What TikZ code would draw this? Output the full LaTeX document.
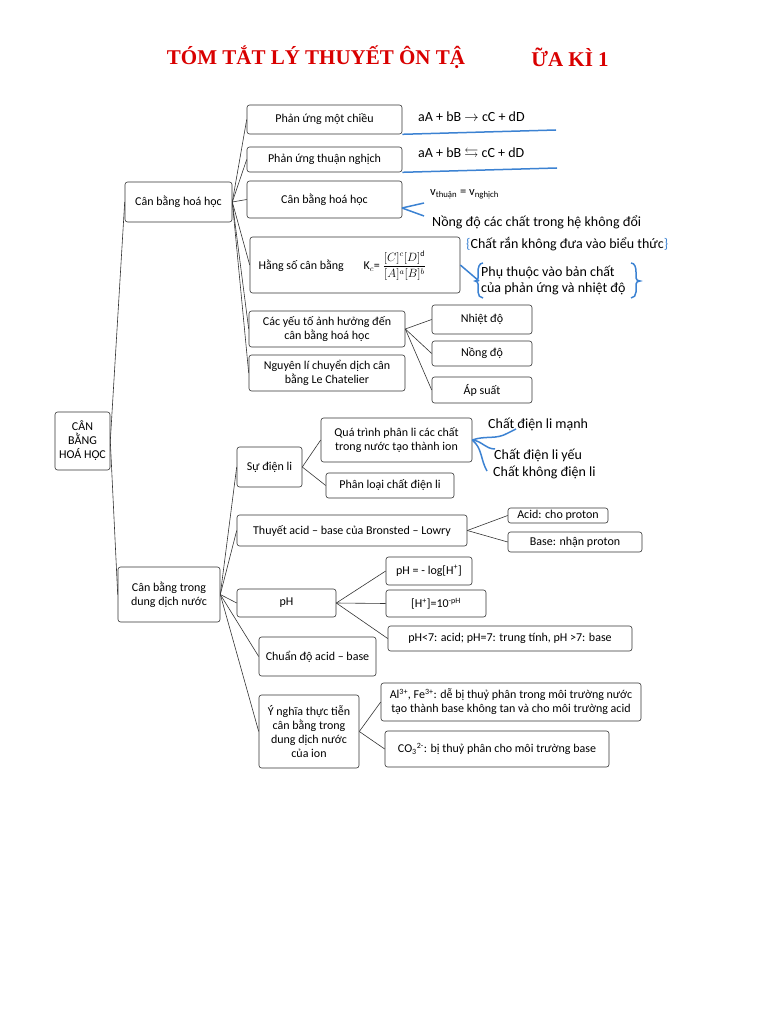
\documentclass[tikz,border=0pt]{standalone}
\usepackage{amssymb}
\usepackage{fontspec}
\setmainfont{Carlito}
\newfontfamily\tnr{Liberation Serif}
\usetikzlibrary{calc}
\definecolor{bl}{RGB}{60,130,210}
\begin{document}
\begin{tikzpicture}[x=1pt,y=-1pt,
 bx/.style={draw=black!80,rounded corners=2.5pt,line width=0.6pt,align=center,font=\fontsize{12}{14}\selectfont,inner sep=2pt},
 ln/.style={draw=black!80,line width=0.6pt},
 bt/.style={font=\fontsize{14}{16}\selectfont,anchor=west,inner sep=0pt},
 bll/.style={draw=bl,line width=1.5pt}]
\useasboundingbox (0,0) rectangle (768,1024);
\newcommand{\bxat}[6]{\node[bx,minimum width=#4-#2,minimum height=#5-#3] (#1) at ({(#2+#4)/2},{(#3+#5)/2}) {#6};}
\node[font=\tnr\bfseries\fontsize{21}{23}\selectfont,text=red!85!black] (t1) at (316,57) {TÓM TẮT LÝ THUYẾT ÔN TẬ};
\node[font=\tnr\bfseries\fontsize{21}{23}\selectfont,text=red!85!black] (t2) at (570,57) {ỮA KÌ 1};
\bxat{root}{55}{412}{110}{470}{CÂN\\BẰNG\\HOÁ HỌC}
\bxat{a}{125}{182}{232}{222}{Cân bằng hoá học}
\bxat{b}{118}{567}{220}{622}{Cân bằng trong\\dung dịch nước}
\bxat{a1}{247}{105}{402}{134}{Phản ứng một chiều}
\bxat{a2}{247}{147}{402}{172}{Phản ứng thuận nghịch}
\bxat{a3}{247}{181}{402}{218}{Cân bằng hoá học}
\bxat{a4}{250}{237}{460}{293}{}
\node[anchor=west,font=\fontsize{12}{14}\selectfont] (hs) at (255,266) {Hằng số cân bằng};
\node[anchor=west,font=\fontsize{12}{14}\selectfont] (kc) at (360,266) {K$_c$= $\displaystyle\frac{[C]^c[D]^{\mathrm d}}{[A]^a[B]^b}$};
\bxat{a5}{249}{311}{405}{347}{Các yếu tố ảnh hưởng đến\\cân bằng hoá học}
\bxat{a6}{249}{355}{405}{391}{Nguyên lí chuyển dịch cân\\bằng Le Chatelier}
\bxat{n1}{432}{305}{532}{334}{Nhiệt độ}
\bxat{n2}{432}{341}{532}{366}{Nồng độ}
\bxat{n3}{432}{377}{532}{403}{Áp suất}
\bxat{b1}{237}{447}{302}{487}{Sự điện li}
\bxat{b11}{321}{418}{472}{462}{Quá trình phân li các chất\\trong nước tạo thành ion}
\bxat{b12}{326}{473}{454}{498}{Phân loại chất điện li}
\bxat{b2}{237}{515}{467}{546}{Thuyết acid -- base của Bronsted -- Lowry}
\bxat{b21}{508}{508}{608}{523}{Acid: cho proton}
\bxat{b22}{508}{532}{642}{552}{Base: nhận proton}
\bxat{b3}{237}{589}{336}{617}{pH}
\bxat{b31}{386}{557}{472}{585}{pH = - log[H\textsuperscript{+}]}
\bxat{b32}{386}{590}{486}{617}{[H\textsuperscript{+}]=10\textsuperscript{-pH}}
\bxat{b33}{388}{626}{632}{651}{pH<7: acid; pH=7: trung tính, pH >7: base}
\bxat{b4}{259}{637}{376}{676}{Chuẩn độ acid -- base}
\bxat{b5}{259}{695}{359}{768}{Ý nghĩa thực tiễn\\cân bằng trong\\dung dịch nước\\của ion}
\bxat{b51}{381}{683}{641}{721}{Al\textsuperscript{3+}, Fe\textsuperscript{3+}: dễ bị thuỷ phân trong môi trường nước\\tạo thành base không tan và cho môi trường acid}
\bxat{b52}{385}{731}{609}{767}{CO\textsubscript{3}\textsuperscript{2-}: bị thuỷ phân cho môi trường base}
% connectors
\foreach \t in {a,b} \draw[ln] (root.east) -- (\t.west);
\foreach \t in {a1,a2,a3,a4,a5,a6} \draw[ln] (a.east) -- (\t.west);
\foreach \t in {n1,n2,n3} \draw[ln] (a5.east) -- (\t.west);
\foreach \t in {b1,b2,b3,b4,b5} \draw[ln] (b.east) -- (\t.west);
\foreach \t in {b11,b12} \draw[ln] (b1.east) -- (\t.west);
\foreach \t in {b21,b22} \draw[ln] (b2.east) -- (\t.west);
\foreach \t in {b31,b32,b33} \draw[ln] (b3.east) -- (\t.west);
\foreach \t in {b51,b52} \draw[ln] (b5.east) -- (\t.west);
% blue annotations
\node[bt] (e1) at (418,117) {aA + bB $\rightarrow$ cC + dD};
\node[bt] (e2) at (418,154) {aA + bB $\leftrightarrows$ cC + dD};
\coordinate (u1) at (556,130); \coordinate (u2) at (557,168);
\draw[bll] (a1.south east) -- (u1);
\draw[bll] (a2.south east) -- (u2);
\coordinate (c0) at (402,208);
\node[anchor=west,font=\fontsize{12.5}{14}\selectfont,inner sep=0pt] (v) at (430,194) {v\textsubscript{thuận} = v\textsubscript{nghịch}};
\node[bt] (nd) at (432,222) {Nồng độ các chất trong hệ không đổi};
\coordinate (c1) at (424,203); \coordinate (c2) at (424,216);
\draw[bll] (c0) -- (c1); \draw[bll] (c0) -- (c2);
\node[bt] (cr) at (466,244) {\textcolor{bl}{\{}Chất rắn không đưa vào biểu thức\textcolor{bl}{\}}};
\node[bt,align=left] (pt) at (481,280) {Phụ thuộc vào bản chất\\ của phản ứng và nhiệt độ};
\draw[bll] (a4.east) -- (479,281);
\draw[bll] (483,263) to[out=180,in=90] (478,272) -- (478,278) to[out=-90,in=0] (475,281) to[out=0,in=90] (478,284) -- (478,292) to[out=-90,in=180] (483,298);
\draw[bll] (631,263) to[out=0,in=90] (636,272) -- (636,278) to[out=-90,in=180] (640,281) to[out=180,in=90] (636,284) -- (636,292) to[out=-90,in=0] (631,298);
\node[bt] (m1) at (488,424) {Chất điện li mạnh};
\node[bt] (m2) at (494,455) {Chất điện li yếu};
\node[bt] (m3) at (493,472) {Chất không điện li};
\draw[bll] (b11.east) to[out=20,in=-150] (508,433) -- (516,429);
\draw[bll] (b11.east) to[out=-5,in=180] (495,449);
\draw[bll] (b11.east) to[out=-40,in=120] (487,471);
\end{tikzpicture}
\end{document}
